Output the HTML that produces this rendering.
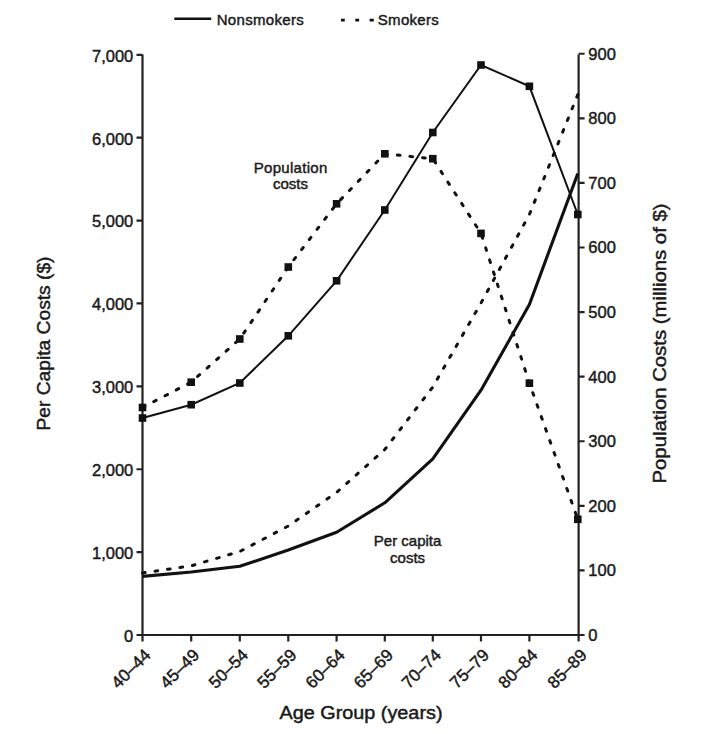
<!DOCTYPE html>
<html><head><meta charset="utf-8"><style>
html,body{margin:0;padding:0;background:#fff;width:720px;height:734px;overflow:hidden}
svg{display:block}
text{font-family:"Liberation Sans", sans-serif;fill:#1a1a1a;stroke:#1a1a1a;stroke-width:0.45px}
</style></head><body>
<svg width="720" height="734" viewBox="0 0 720 734">
<path d="M142.5,54.5 V635 H578.6 V54.5" fill="none" stroke="#222" stroke-width="2.2"/>
<path d="M136.5,635.00 H142.5 M136.5,552.11 H142.5 M136.5,469.23 H142.5 M136.5,386.34 H142.5 M136.5,303.46 H142.5 M136.5,220.57 H142.5 M136.5,137.69 H142.5 M136.5,54.80 H142.5" stroke="#222" stroke-width="2.2"/>
<path d="M578.6,635.00 H584.6 M578.6,570.42 H584.6 M578.6,505.83 H584.6 M578.6,441.25 H584.6 M578.6,376.67 H584.6 M578.6,312.08 H584.6 M578.6,247.50 H584.6 M578.6,182.92 H584.6 M578.6,118.33 H584.6 M578.6,53.75 H584.6" stroke="#222" stroke-width="2.2"/>
<path d="M142.5,635 V641.5 M191.2,635 V641.5 M239.8,635 V641.5 M288.3,635 V641.5 M336.6,635 V641.5 M384.8,635 V641.5 M432.8,635 V641.5 M481.0,635 V641.5 M529.4,635 V641.5 M578.6,635 V641.5" stroke="#222" stroke-width="2.2"/>
<text x="133.3" y="641.8" text-anchor="end" font-size="16.5">0</text>
<text x="133.3" y="558.9" text-anchor="end" font-size="16.5">1,000</text>
<text x="133.3" y="476.0" text-anchor="end" font-size="16.5">2,000</text>
<text x="133.3" y="393.1" text-anchor="end" font-size="16.5">3,000</text>
<text x="133.3" y="310.3" text-anchor="end" font-size="16.5">4,000</text>
<text x="133.3" y="227.4" text-anchor="end" font-size="16.5">5,000</text>
<text x="133.3" y="144.5" text-anchor="end" font-size="16.5">6,000</text>
<text x="133.3" y="61.6" text-anchor="end" font-size="16.5">7,000</text>
<text x="588.3" y="640.9" font-size="16.5">0</text>
<text x="588.3" y="576.3" font-size="16.5">100</text>
<text x="588.3" y="511.7" font-size="16.5">200</text>
<text x="588.3" y="447.1" font-size="16.5">300</text>
<text x="588.3" y="382.6" font-size="16.5">400</text>
<text x="588.3" y="318.0" font-size="16.5">500</text>
<text x="588.3" y="253.4" font-size="16.5">600</text>
<text x="588.3" y="188.8" font-size="16.5">700</text>
<text x="588.3" y="124.2" font-size="16.5">800</text>
<text x="588.3" y="59.6" font-size="16.5">900</text>
<text transform="translate(151.8,656.0) rotate(-45)" text-anchor="end" font-size="17">40–44</text>
<text transform="translate(200.5,656.0) rotate(-45)" text-anchor="end" font-size="17">45–49</text>
<text transform="translate(249.1,656.0) rotate(-45)" text-anchor="end" font-size="17">50–54</text>
<text transform="translate(297.6,656.0) rotate(-45)" text-anchor="end" font-size="17">55–59</text>
<text transform="translate(345.9,656.0) rotate(-45)" text-anchor="end" font-size="17">60–64</text>
<text transform="translate(394.1,656.0) rotate(-45)" text-anchor="end" font-size="17">65–69</text>
<text transform="translate(442.1,656.0) rotate(-45)" text-anchor="end" font-size="17">70–74</text>
<text transform="translate(490.3,656.0) rotate(-45)" text-anchor="end" font-size="17">75–79</text>
<text transform="translate(538.7,656.0) rotate(-45)" text-anchor="end" font-size="17">80–84</text>
<text transform="translate(587.9,656.0) rotate(-45)" text-anchor="end" font-size="17">85–89</text>
<text x="361" y="718.5" text-anchor="middle" font-size="17.5" textLength="163" lengthAdjust="spacingAndGlyphs">Age Group (years)</text>
<text transform="translate(50.2,343.5) rotate(-90)" text-anchor="middle" font-size="19" textLength="174" lengthAdjust="spacingAndGlyphs">Per Capita Costs ($)</text>
<text transform="translate(665.9,343.5) rotate(-90)" text-anchor="middle" font-size="19" textLength="280" lengthAdjust="spacingAndGlyphs">Population Costs (millions of $)</text>
<text x="290.5" y="172.5" text-anchor="middle" font-size="15" textLength="73.5" lengthAdjust="spacing">Population</text>
<text x="290.5" y="189.2" text-anchor="middle" font-size="15">costs</text>
<text x="407.6" y="546.1" text-anchor="middle" font-size="15">Per capita</text>
<text x="407.6" y="562.8" text-anchor="middle" font-size="15">costs</text>
<path d="M174.3,18.8 H211.2" stroke="#111" stroke-width="2.6"/>
<text x="216.7" y="24.8" font-size="15" textLength="87" lengthAdjust="spacing">Nonsmokers</text>
<path d="M341,20.2 h3.8 M355.3,20.2 h3.8 M369.6,20.2 h4.2" stroke="#111" stroke-width="2.8"/>
<text x="377.8" y="24.8" font-size="15" textLength="61" lengthAdjust="spacing">Smokers</text>
<polyline points="142.5,576.4 191.2,572.0 239.8,566.3 288.3,550.0 336.6,532.2 384.8,502.8 432.8,458.9 481.0,390.2 529.4,304.5 577.8,173.5" fill="none" stroke="#111" stroke-width="3.1" stroke-linejoin="round"/>
<polyline points="142.5,573.0 191.2,565.8 239.8,551.5 288.3,526.0 336.6,492.4 384.8,449.5 432.8,387.0 481.0,303.0 529.4,214.5 577.8,94.6" fill="none" stroke="#111" stroke-width="3" stroke-linecap="round" stroke-dasharray="2.7 9.915"/>
<polyline points="142.5,418.0 191.2,404.7 239.8,383.0 288.3,335.8 336.6,280.8 384.8,210.0 432.8,132.5 481.0,65.0 529.4,86.3 577.8,214.5" fill="none" stroke="#111" stroke-width="2"/>
<polyline points="142.5,407.5 191.2,382.2 239.8,339.0 288.3,267.0 336.6,203.8 384.8,153.8 432.8,158.7 481.0,233.4 529.4,383.2 577.8,519.3" fill="none" stroke="#111" stroke-width="3" stroke-linecap="round" stroke-dasharray="2.7 10"/>
<rect x="138.7" y="414.2" width="7.6" height="7.6" fill="#111"/>
<rect x="187.4" y="400.9" width="7.6" height="7.6" fill="#111"/>
<rect x="236.0" y="379.2" width="7.6" height="7.6" fill="#111"/>
<rect x="284.5" y="332.0" width="7.6" height="7.6" fill="#111"/>
<rect x="332.8" y="277.0" width="7.6" height="7.6" fill="#111"/>
<rect x="381.0" y="206.2" width="7.6" height="7.6" fill="#111"/>
<rect x="429.0" y="128.7" width="7.6" height="7.6" fill="#111"/>
<rect x="477.2" y="61.2" width="7.6" height="7.6" fill="#111"/>
<rect x="525.6" y="82.5" width="7.6" height="7.6" fill="#111"/>
<rect x="574.0" y="210.7" width="7.6" height="7.6" fill="#111"/>
<rect x="138.7" y="403.7" width="7.6" height="7.6" fill="#111"/>
<rect x="187.4" y="378.4" width="7.6" height="7.6" fill="#111"/>
<rect x="236.0" y="335.2" width="7.6" height="7.6" fill="#111"/>
<rect x="284.5" y="263.2" width="7.6" height="7.6" fill="#111"/>
<rect x="332.8" y="200.0" width="7.6" height="7.6" fill="#111"/>
<rect x="381.0" y="150.0" width="7.6" height="7.6" fill="#111"/>
<rect x="429.0" y="154.9" width="7.6" height="7.6" fill="#111"/>
<rect x="477.2" y="229.6" width="7.6" height="7.6" fill="#111"/>
<rect x="525.6" y="379.4" width="7.6" height="7.6" fill="#111"/>
<rect x="574.0" y="515.5" width="7.6" height="7.6" fill="#111"/>
</svg>
</body></html>
